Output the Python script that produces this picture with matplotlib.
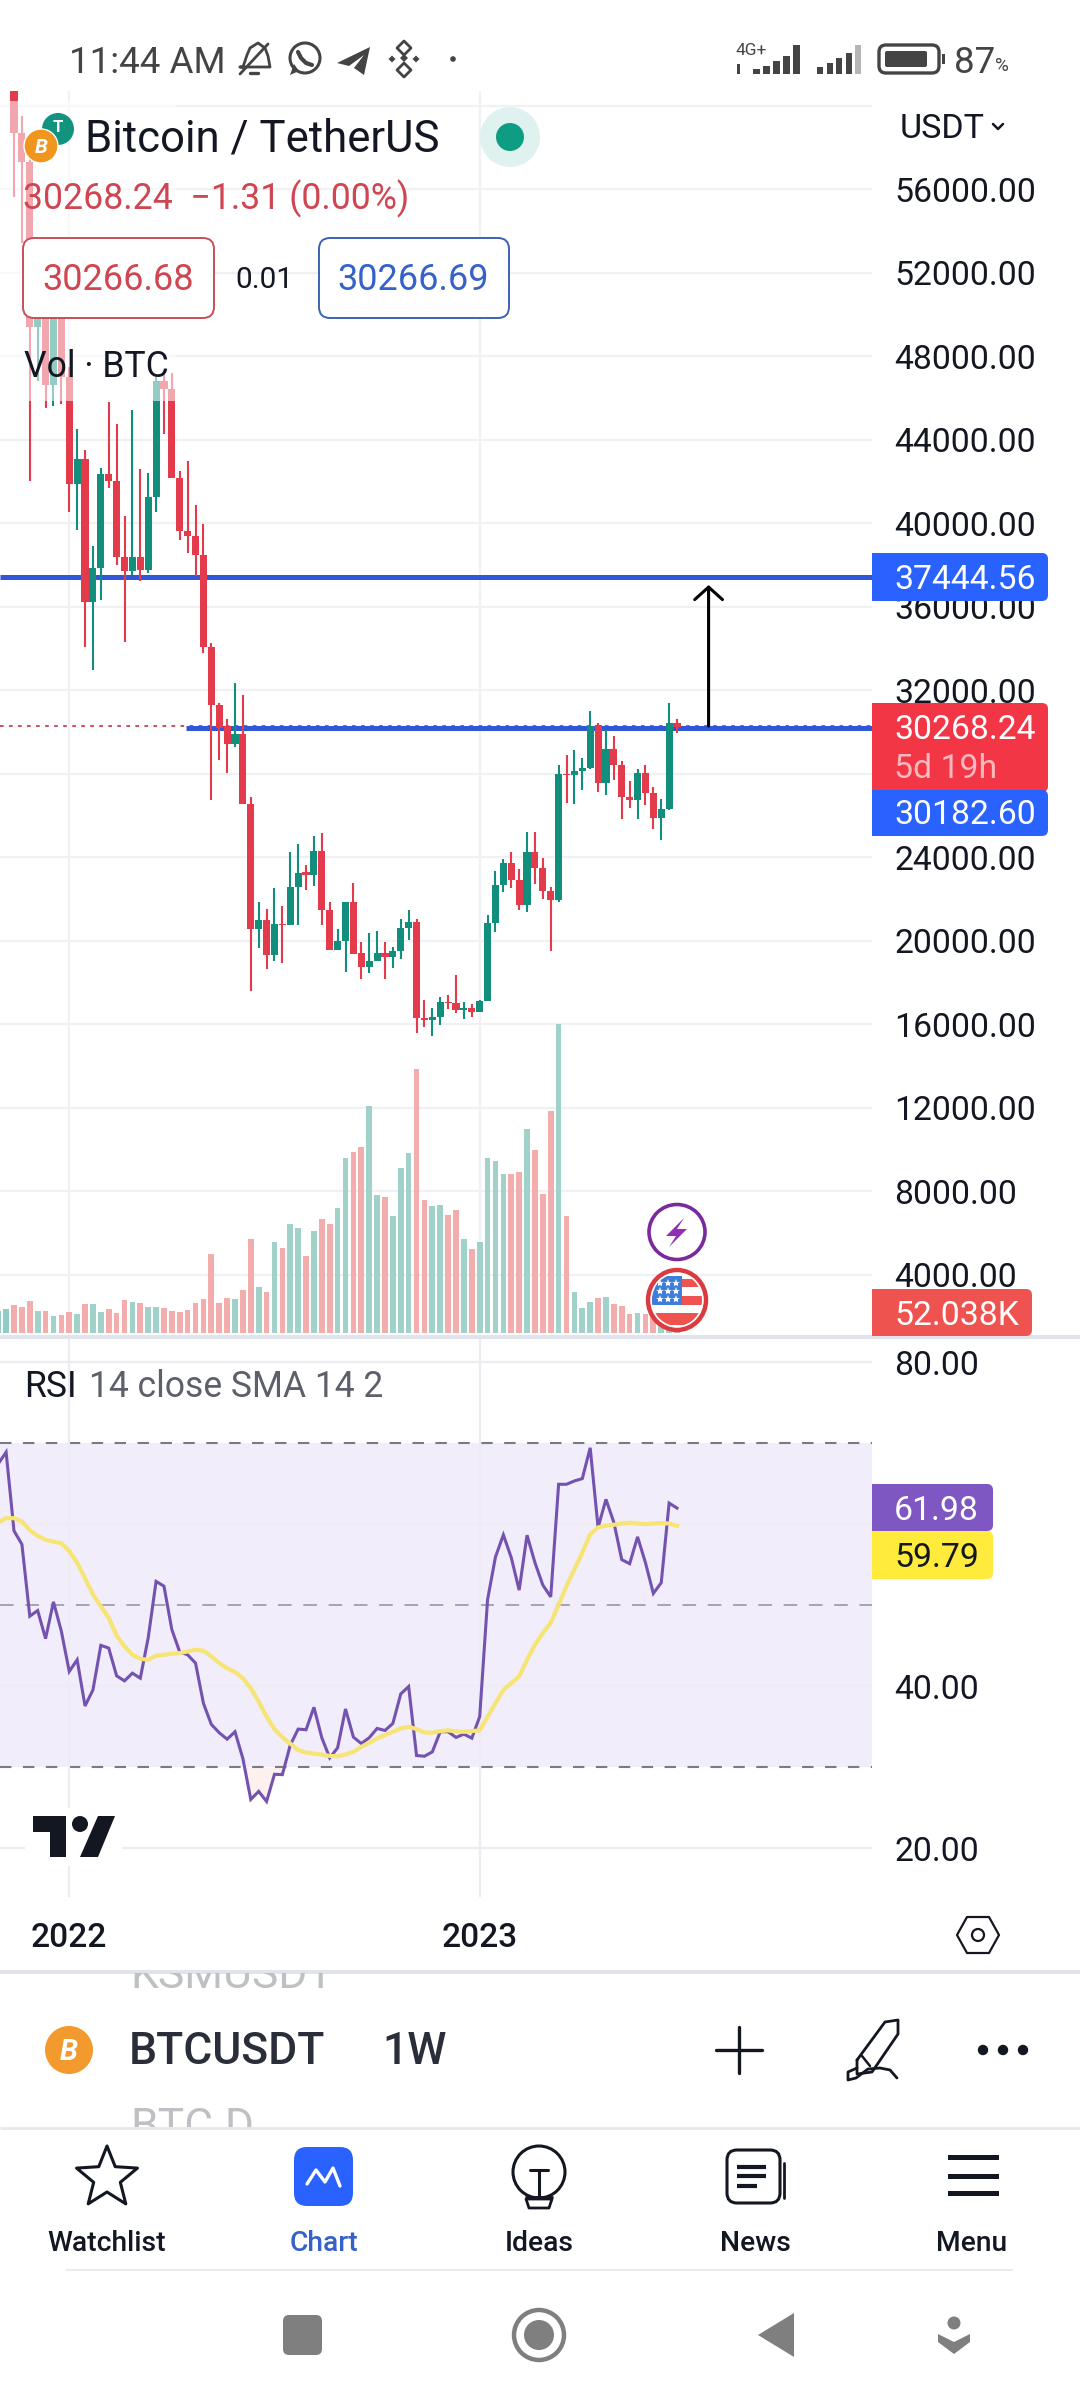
import numpy as np
import matplotlib
matplotlib.use("Agg")
import matplotlib.pyplot as plt
from matplotlib.patches import Rectangle, FancyBboxPatch, Circle, Polygon, Ellipse

plt.rcParams['font.family'] = ['Roboto', 'DejaVu Sans']

# ---------- data ----------
OPEN = [62000,58670,57290,49390,52150,46630,49850,47000,41890,43090,36250,37870,42370,42040,38370,37690,38400,37780,41270,46820,
        46410,42170,39650,39410,38460,34050,31298,30290,29442,29922,26562,20562,20978,19314,20818,20754,22578,23298,23154,24322,
        21490,19554,19986,21842,19410,18770,19026,19410,19218,19538,20610,20898,16290,16210,16370,17058,17010,16690,16786,16578,
        17138,20850,22674,23730,22898,21730,24258,23506,22370,21938,27970,27922,28146,28290,30322,27538,29202,28434,26882,26738,
        28050,27090,25874,26322,30450]
HIGH = [62000,59490,58300,52800,53000,51000,50500,47500,44520,43510,38920,42630,45810,44760,40350,45440,42590,42410,47000,47180,
        47180,42500,42990,40850,39980,34258,31400,30642,32370,31762,26898,21858,21522,22530,21682,24258,24658,23634,25042,25186,
        21858,20562,21850,22770,19954,20370,20450,19938,19698,21042,21458,21042,17170,16770,17298,17394,18354,17058,16978,17170,
        21234,23346,23922,24258,23442,25218,25218,23970,22578,28402,28882,29154,28770,30994,30450,30098,29826,28610,27666,28242,
        28434,27378,26802,31410,30642]
LOW = [55640,53430,42040,46820,45530,45620,45720,40520,39690,34050,32950,36310,41670,38000,34330,37540,37230,37630,40540,44250,
       42170,39190,38550,37450,33780,26738,28658,28018,29298,26562,17618,19650,18642,19058,18930,20754,20754,22418,22642,20770,
       19554,19554,18530,19378,18162,18482,19026,18194,18690,19154,20018,15602,15858,15458,15986,16722,16530,16258,16338,16578,
       17138,20402,22322,22514,21458,21362,22738,22002,19538,21842,26610,26546,27218,28240,27122,26978,27698,25826,26354,25858,
       26498,25346,24818,26258,29954]
CLOSE = [58670,57290,49390,52150,46630,49850,47000,41890,43090,36250,37870,42370,42040,38370,37690,38400,37780,41270,46820,46410,
         42170,39650,39410,38460,34050,31298,30210,29442,29922,26562,20562,20978,19314,20818,20754,22578,23250,23154,24322,21490,
         19554,19986,21842,19378,18770,19026,19410,19218,19538,20610,20898,16290,16210,16370,17058,17010,16690,16786,16578,17138,
         20850,22674,23730,22898,21730,24258,23506,22370,21938,27970,27922,28146,28290,30290,27538,29202,28434,26882,26738,28050,
         27090,25874,26322,30450,30258]
# thousand BTC, two bars precede the first visible candle
VOLUME_LEAD = [226, 250]
VOLUME = [295,274,337,232,232,180,191,222,201,305,305,222,253,212,347,326,316,274,274,264,232,222,243,316,357,826,316,368,357,451,
          982,482,430,951,888,1138,1097,805,1065,1190,1138,1305,1825,1888,1940,2367,1440,1419,1221,1721,1877,2752,1388,1326,1336,
          1232,1284,982,878,951,1825,1794,1659,1659,1679,2127,1909,1450,2314,3217,1221,430,264,326,368,378,305,285,201,212,201,191,
          121,156,52]
RSI = [67.44,68.88,59.17,57.52,48.64,49.34,45.87,50.41,46.78,41.82,43.26,37.56,39.54,45.04,44.71,41.28,40.66,41.61,40.99,45.95,
       52.93,52.35,46.98,44.21,43.88,42.85,37.89,35.29,34.26,33.47,34.38,31.07,26.03,27.02,25.78,29.13,29.09,32.73,34.71,34.63,
       37.40,33.64,31.16,32.40,37.19,33.72,32.93,33.64,34.79,34.54,35.41,39.05,39.96,31.45,31.36,31.90,34.38,34.38,33.68,34.09,
       33.59,36.24,50.70,55.95,58.68,55.87,51.86,58.64,55.25,52.48,51.03,64.92,64.92,65.33,65.62,69.42,59.59,63.06,60.21,55.62,
       55.12,58.43,55.25,51.45,52.77,62.60,61.98]
RSI_SMA = [60.2,60.74,60.74,60.33,59.26,58.55,58.06,57.85,57.64,56.69,55.25,53.31,51.32,49.88,48.43,46.24,44.92,43.88,43.39,43.26,
           43.76,43.88,44.01,44.09,44.30,44.50,44.38,43.68,42.85,42.23,41.73,40.99,39.75,38.10,36.24,34.71,33.68,32.93,32.11,31.82,
           31.69,31.57,31.40,31.36,31.57,31.90,32.52,33.02,33.55,33.97,34.38,34.79,35.0,34.71,34.30,34.26,34.46,34.55,34.42,34.38,
           34.46,34.55,36.24,37.89,39.55,40.37,41.20,43.26,45.12,46.57,47.81,50.08,52.35,54.42,56.49,58.76,59.59,59.83,59.92,60.08,
           60.17,60.08,60.0,60.08,60.12,60.08,59.79]
PRICE_TICKS = list(range(4000, 60001, 4000))
RSI_TICKS = [80, 60, 40, 20]
RSI_TICK_LABELS = ['80.00', '', '40.00', '20.00']
YEAR_POS = [6.97, 59.0]
YEAR_LABELS = ['2022', '2023']
LEVEL_UP = 37444.56
LEVEL_NOW = 30182.60
LAST_PRICE = 30268.24
LEVEL_NOW_START = 21.8
ARROW_X = 88.0
ARROW_TOP = 37040
BID, SPREAD, ASK = '30266.68', '0.01', '30266.69'
TABS = ['Watchlist', 'Chart', 'Ideas', 'News', 'Menu']

# ---------- colours ----------
RED, GREEN, BLUE = '#E33B4B', '#118F7C', '#3157D9'
TAGBLUE, TAGRED = '#2962FF', '#F23645'
INK = '#131722'
GRID = '#F0F1F5'
LABEL = 24.3

W, H = 1080, 2400
fig = plt.figure(figsize=(W/100, H/100), dpi=100, facecolor='white')

def axes_px(x0, y0, x1, y1, **kw):
    return fig.add_axes([x0/W, 1-y1/H, (x1-x0)/W, (y1-y0)/H], **kw)

PX_PER_BAR = 7.893
XLIM = (-14/PX_PER_BAR, (872-14)/PX_PER_BAR)

# ---------- price pane ----------
ax = axes_px(0, 91, 872, 1333, zorder=1)
ax.set_xlim(*XLIM)
ax.set_ylim(1221, 60698)
idx = np.arange(len(OPEN))
o, h, l, c = map(np.array, (OPEN, HIGH, LOW, CLOSE))
up = c >= o
cols = np.where(up, GREEN, RED)
ax.set_yticks(PRICE_TICKS)
ax.set_yticklabels(['' if v == 60000 else f'{v:.2f}' for v in PRICE_TICKS])
ax.set_xticks(YEAR_POS)
ax.tick_params(axis='y', length=0, labelleft=False, labelright=True, left=False, pad=16, labelsize=LABEL, labelcolor=INK)
ax.tick_params(axis='x', length=0, labelbottom=False)
ax.grid(True, color=GRID, lw=1.6)
ax.set_axisbelow(True)
for s in ax.spines.values():
    s.set_visible(False)
ax.hlines(LAST_PRICE, XLIM[0], XLIM[1], colors='#C4414F', linestyles=(0, (2, 3)), lw=1.3, zorder=2)
ax.hlines(LEVEL_UP, XLIM[0], XLIM[1], colors=BLUE, lw=3.6, zorder=2)
ax.hlines(LEVEL_NOW, LEVEL_NOW_START, XLIM[1], colors=BLUE, lw=3.6, zorder=2)
ax.vlines(idx, l, h, colors=cols, lw=1.5, zorder=3)
ax.bar(idx, np.abs(c-o), bottom=np.minimum(o, c), width=0.9, color=cols, linewidth=0, zorder=4)
ax.annotate('', xy=(ARROW_X, ARROW_TOP), xytext=(ARROW_X, LEVEL_NOW+100),
            arrowprops=dict(arrowstyle='->,head_length=0.45,head_width=0.5', lw=2.2, color='black',
                            shrinkA=0, shrinkB=0, mutation_scale=20), zorder=5)

# ---------- volume overlay ----------
axv = axes_px(0, 91, 872, 1333, zorder=2)
axv.patch.set_alpha(0)
axv.set_xlim(*XLIM)
axv.set_ylim(0, 12930)
axv.axis('off')
vol = np.array(VOLUME_LEAD + VOLUME)
vidx = np.arange(-len(VOLUME_LEAD), len(VOLUME))
vcols = ['#8CCBC1'] * len(VOLUME_LEAD) + ['#9BD0C8' if u else '#F3A9A9' for u in up]
axv.bar(vidx, vol, width=0.72, color=vcols, linewidth=0, alpha=0.95)

# ---------- RSI pane ----------
axr = axes_px(0, 1338, 872, 1897, zorder=1)
axr.set_xlim(*XLIM)
axr.set_ylim(13.99, 82.97)
axr.axhspan(30, 70, color='#F1EDFA', lw=0, zorder=1)
axr.set_yticks(RSI_TICKS)
axr.set_yticklabels(RSI_TICK_LABELS)
axr.set_xticks(YEAR_POS)
axr.set_xticklabels(YEAR_LABELS, fontsize=24, fontweight='medium', color=INK)
axr.tick_params(axis='y', length=0, labelleft=False, labelright=True, left=False, pad=16, labelsize=LABEL, labelcolor=INK)
axr.tick_params(axis='x', length=0, pad=18)
axr.grid(True, color='#ECECF2', lw=1.6, zorder=1.5)
axr.set_axisbelow(False)
for s in axr.spines.values():
    s.set_visible(False)
ridx = np.arange(-2, len(RSI)-2)
rsi = np.array(RSI)
sma = np.array(RSI_SMA)
axr.fill_between(ridx, rsi, 30, where=rsi < 30, interpolate=True, color='#FDF1EF', lw=0, zorder=2)
axr.axhline(70, color='#787B86', lw=1.5, ls=(0, (5.5, 5.5)), zorder=2)
axr.axhline(30, color='#787B86', lw=1.5, ls=(0, (5.5, 5.5)), zorder=2)
axr.axhline(50, color='#A5A5AE', lw=1.4, ls=(0, (7, 6)), zorder=2)
axr.plot(ridx, rsi, color='#7352B0', lw=2.2, zorder=3, solid_joinstyle='miter')
axr.plot(ridx, sma, color='#F6E574', lw=3.0, zorder=4)

# ---------- UI overlay in pixel coordinates ----------
ui = fig.add_axes([0, 0, 1, 1], zorder=5)
ui.set_xlim(0, W)
ui.set_ylim(H, 0)
ui.axis('off')
ui.patch.set_alpha(0)

def T(x, y, s, size, color=INK, ha='left', weight='normal', z=10, **kw):
    em = size/0.72
    return ui.text(x, y+0.355*em, s, fontsize=size, color=color, ha=ha, va='baseline',
                   fontweight=weight, zorder=z, **kw)

def rrect(x0, y0, x1, y1, r, fc='none', ec='none', lw=0, z=8):
    p = FancyBboxPatch((x0+r, y0+r), x1-x0-2*r, y1-y0-2*r, boxstyle=f'round,pad={r},rounding_size={r}',
                       fc=fc, ec=ec, lw=lw, zorder=z)
    ui.add_patch(p)
    return p

def tag(x1, y0, y1, fc, z=8):
    p = rrect(860, y0, x1, y1, 6, fc=fc, z=z)
    p.set_clip_path(Rectangle((872, y0-2), x1-872+2, y1-y0+4, transform=ui.transData))

def line(xs, ys, color=INK, lw=2.0, z=9, **kw):
    ui.plot(xs, ys, color=color, lw=lw, zorder=z, solid_capstyle=kw.pop('cap', 'round'), solid_joinstyle='round', **kw)

def poly(pts, fc=INK, ec='none', lw=0, z=9):
    ui.add_patch(Polygon(pts, closed=True, fc=fc, ec=ec, lw=lw, zorder=z, joinstyle='round'))

# translucent legend veil
ui.add_patch(Rectangle((0, 101), 176, 300, fc='white', ec='none', alpha=0.55, zorder=1))
ui.add_patch(Rectangle((0, 0), W, 91, fc='white', ec='none', zorder=0.5))

# separators
line([0, W], [1337, 1337], '#E0E3EB', 2.8, z=2, cap='butt')
line([0, W], [1971.5, 1971.5], '#E0E3EB', 2.8, z=2, cap='butt')
line([0, W], [2128, 2128], '#E8E9ED', 2.2, z=2, cap='butt')
line([66, 1013], [2270, 2270], '#E8E9ED', 1.3, z=2, cap='butt')

# status bar
SC = '#444444'
T(69, 60, '11:44 AM', 26.5, SC)
# muted bell
line([243, 247, 250, 258, 265, 268, 270, 240, 243], [67, 55, 48, 43, 48, 56, 67, 67, 67], SC, 2.0)
line([240, 268], [74, 44], SC, 2.0)
line([250, 258], [73, 73], SC, 2.4)
# whatsapp
ui.add_patch(Circle((305, 58), 15, fc='none', ec=SC, lw=2.2, zorder=9))
poly([[290, 75], [294, 64], [299, 71]], fc=SC)
line([298, 301, 306, 312], [52, 58, 63, 65], SC, 3.0)
# telegram
poly([[370, 47], [337, 63], [349, 66], [364, 55], [354, 68], [364, 75]], fc=SC)
# binance
for (cx, cy, r) in [(404, 48, 7), (404, 58, 4), (404, 70, 7), (392, 59, 3.5), (416, 59, 3.5)]:
    poly([[cx-r, cy], [cx, cy-r], [cx+r, cy], [cx, cy+r]], fc='none' if r == 7 else SC, ec=SC, lw=2 if r == 7 else 0)
ui.add_patch(Circle((453, 59), 2.8, fc=SC, zorder=9))
T(735, 49, '4G+', 12.5, SC)
for i, hh in enumerate([5, 8, 13, 18, 29]):
    ui.add_patch(Rectangle((753+i*10, 74-hh), 6.5, hh, fc=SC, zorder=9))
poly([[737, 64], [740, 64], [740, 74], [737, 74]], fc=SC)
for i, hh in enumerate([7, 11, 16, 21, 29]):
    ui.add_patch(Rectangle((817+i*9.5, 74-hh), 6, hh, fc=SC if i < 4 else '#B5B5B5', zorder=9))
rrect(879, 45, 939, 73, 7, ec=SC, lw=2.4)
rrect(885, 51, 927, 67, 2, fc=SC)
ui.add_patch(Rectangle((942, 54), 3, 10, fc=SC, zorder=9))
T(954, 60, '87', 26.5, SC)
T(995, 64, '%', 13.5, SC)

# header
ui.add_patch(Circle((58, 129), 16, fc='#12937F', zorder=6))
T(58, 126, 'T', 12, 'white', ha='center', weight='bold', z=7)
ui.add_patch(Circle((41, 146), 17, fc='#F0951E', ec='white', lw=1, zorder=7))
T(41, 146, 'B', 15, 'white', ha='center', weight='bold', z=8, style='italic')
T(85, 136, 'Bitcoin / TetherUS', 31.5, INK)
ui.add_patch(Circle((510, 137), 30, fc='#E0F2EF', zorder=6))
ui.add_patch(Circle((510, 137), 14, fc='#0E9D83', zorder=7))
T(23, 197, f'{LAST_PRICE:.2f}  \u22121.31 (0.00%)', 25.7, '#CF4652')
rrect(23, 238, 214, 318, 11, fc='white', ec='#C84F58', lw=1.4)
T(118, 277, BID, 26, '#CF4652', ha='center')
T(264, 277, SPREAD, 21.5, INK, ha='center')
rrect(319, 238, 509, 318, 11, fc='white', ec='#3C62B4', lw=1.4)
T(413, 277, ASK, 26, '#3562C8', ha='center')
T(24, 364, 'Vol \u00b7 BTC', 25.6, INK)
T(900, 126, 'USDT', 24.5, INK)
line([993, 998, 1003], [124, 129, 124], INK, 1.8)

# RSI header
T(24, 1384, 'RSI', 25.6, INK)
T(89, 1384, '14 close SMA 14 2', 25.6, '#5D606B')

# price tags
tag(1048, 553, 601, TAGBLUE)
T(894, 577, f'{LEVEL_UP:.2f}', LABEL, 'white')
tag(1048, 703, 792, TAGRED)
T(894, 727, f'{LAST_PRICE:.2f}', LABEL, 'white')
T(894, 766, '5d 19h', LABEL, '#FBB8BE')
tag(1048, 790, 836, TAGBLUE, z=8.5)
T(894, 812, f'{LEVEL_NOW:.2f}', LABEL, 'white')
tag(1032, 1289, 1336, '#EF5350')
T(894, 1313, f'{VOLUME[-1]}.038K', LABEL, 'white')
tag(993, 1484, 1531, '#7E57C2')
T(894, 1508, f'{RSI[-1]:.2f}', LABEL, 'white')
tag(993, 1531, 1579, '#FFEB3B', z=8.5)
T(894, 1555, f'{RSI_SMA[-1]:.2f}', LABEL, INK)

# lightning button
ui.add_patch(Ellipse((677, 1232), 56, 55, fc='white', ec='#7B2A9E', lw=2.6, zorder=7))
poly([[684, 1218], [666, 1236], [676, 1236], [669, 1247], [687, 1229], [677, 1229]], fc='#8E2FB5')
# flag button
ui.add_patch(Ellipse((677, 1300), 58, 60, fc='white', ec='#DB3A3F', lw=3.2, zorder=7))
clip = Ellipse((677, 1300), 50, 52, transform=ui.transData)
for (yy, hh) in [(1279, 8), (1296, 9), (1313, 12)]:
    r = Rectangle((650, yy), 56, hh, fc='#EF5350', ec='none', zorder=8)
    ui.add_patch(r)
    r.set_clip_path(clip)
r = Rectangle((650, 1276), 32, 29, fc='#3D7DDB', ec='none', zorder=8.2)
ui.add_patch(r)
r.set_clip_path(clip)
for sx in (660, 668, 676):
    for sy in (1283, 1291, 1299):
        ui.plot(sx, sy, marker='*', ms=6, color='white', mew=0, zorder=8.4)

# logo
ui.add_patch(Rectangle((25, 1808), 97, 58, fc='white', ec='none', zorder=3))
poly([[33, 1816], [66, 1816], [66, 1857], [50, 1857], [50, 1832], [33, 1832]], fc='#131722')
ui.add_patch(Circle((80, 1824), 8, fc='#131722', zorder=9))
poly([[98, 1816], [115, 1816], [98, 1857], [80, 1857]], fc='#131722')

# settings hexagon
poly([[957, 1935], [967, 1917], [989, 1917], [999, 1935], [989, 1953], [967, 1953]], fc='white', ec=INK, lw=1.6)
ui.add_patch(Circle((978, 1935), 6, fc='white', ec=INK, lw=1.6, zorder=10))

# symbol bar
clip_top = Rectangle((0, 1973), W, 40, transform=ui.transData)
clip_bot = Rectangle((0, 2090), W, 37, transform=ui.transData)
t1 = ui.text(130, 1988, 'KSMUSDT', fontsize=32, color='#BFC0C4', va='baseline', zorder=3, clip_on=True)
t1.set_clip_path(clip_top)
t2 = ui.text(130, 2140, 'BTC.D', fontsize=32, color='#BFC0C4', va='baseline', zorder=3, clip_on=True)
t2.set_clip_path(clip_bot)
ui.add_patch(Circle((69, 2050), 24, fc='#F29A2E', zorder=8))
T(69, 2050, 'B', 21, 'white', ha='center', weight='bold', style='italic')
T(129, 2048, 'BTCUSDT', 32, '#2A2E39', weight='medium')
T(382, 2048, '1W', 32, '#2A2E39', weight='medium')
line([716, 762], [2050, 2050], INK, 2.4)
line([739, 739], [2027, 2073], INK, 2.4)
# pen
line([857, 885, 898, 898, 872, 857, 857], [2060, 2022, 2020, 2034, 2072, 2074, 2060], INK, 2.0)
line([862, 870], [2056, 2066], INK, 1.8)
line([857, 848, 848, 856, 868, 880, 890, 897], [2068, 2072, 2080, 2078, 2069, 2068, 2070, 2078], INK, 2.0)
for dx in (983, 1003, 1023):
    ui.add_patch(Circle((dx, 2050), 5.2, fc=INK, zorder=9))

# tab bar
TAB_X = [107, 324, 539, 755, 972]
for x, s in zip(TAB_X, TABS):
    T(x, 2241, s, 20.3, '#3561C9' if s == 'Chart' else INK, ha='center', weight='medium')
a = np.deg2rad(-90 + 36*np.arange(10))
rad = np.where(np.arange(10) % 2 == 0, 32, 14)
poly(np.c_[107 + rad*np.cos(a), 2178 + rad*np.sin(a)], fc='white', ec=INK, lw=2.2)
rrect(294, 2147, 353, 2206, 13, fc='#2962FF')
line([307, 316, 325, 333, 340], [2184, 2170, 2182, 2168, 2186], 'white', 2.4)
ui.add_patch(Circle((539, 2172), 26, fc='white', ec=INK, lw=2.2, zorder=9))
line([530, 548], [2170, 2170], INK, 2.2, z=10)
line([539, 539], [2170, 2198], INK, 2.2, z=10)
line([525, 553], [2197, 2197], INK, 2.0, z=10, cap='butt')
poly([[526, 2199], [552, 2199], [549, 2208], [529, 2208]], fc='white', ec=INK, lw=2.0)
rrect(727, 2150, 780, 2203, 10, fc='white', ec=INK, lw=2.2)
line([784, 784], [2163, 2198], INK, 2.0)
for yy, x1 in [(2167, 766), (2176, 766), (2186, 757)]:
    line([737, x1], [yy, yy], INK, 3.0, cap='butt')
for yy in (2157, 2176, 2193):
    ui.add_patch(Rectangle((948, yy-2.5), 51, 5.5, fc=INK, zorder=9))

# navigation bar
NAV = '#7F7F7F'
rrect(283, 2315, 322, 2355, 6, fc=NAV)
ui.add_patch(Circle((539, 2335), 25, fc='white', ec=NAV, lw=3.2, zorder=9))
ui.add_patch(Circle((539, 2335), 15, fc=NAV, zorder=10))
poly([[758, 2335], [794, 2313], [794, 2357]], fc=NAV)
ui.add_patch(Circle((954, 2323), 6.5, fc=NAV, zorder=9))
poly([[938, 2334], [954, 2342], [970, 2334], [970, 2342], [954, 2354], [938, 2342]], fc=NAV)

fig.savefig('out.png', dpi=100, facecolor='white')
